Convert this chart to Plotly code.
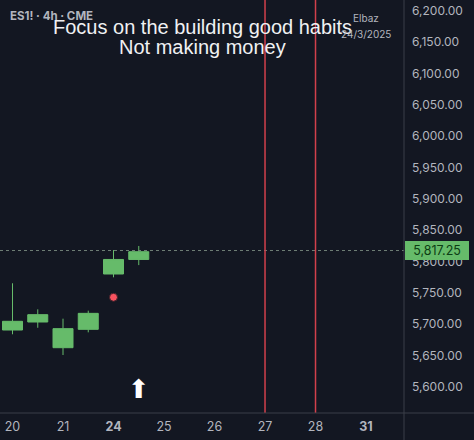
import plotly.graph_objects as go

# day slots on the time axis, weekends already left out
tick_pos = [0, 1, 2, 3, 4, 5, 6, 7]
tick_labels = ["20", "21", "<b>24</b>", "25", "26", "27", "28", "<b>31</b>"]

candle_x = [0, 0.5, 1, 1.5, 2, 2.5]
opens = [5690.4, 5703.2, 5662.2, 5691.5, 5779.8, 5803.0]
highs = [5765.0, 5723.4, 5708.5, 5721.3, 5818.0, 5824.5]
lows = [5683.6, 5694.0, 5650.5, 5686.7, 5774.5, 5794.0]
closes = [5704.3, 5714.9, 5692.6, 5717.0, 5803.0, 5815.4]

price_ticks = [5600, 5650, 5700, 5750, 5800, 5850, 5900, 5950, 6000, 6050, 6100, 6150, 6200]
last_price = 5817.25
dot_x = [2]
dot_y = [5742.6]
arrow_x = [2.5]
arrow_y = [5593]
vlines = [5, 6]

BG = "#131722"
GRID = "#3a3e49"
TXT = "#b2b5be"
GREEN = "#66bb6a"

fig = go.Figure()
fig.add_trace(go.Candlestick(
    x=candle_x, open=opens, high=highs, low=lows, close=closes,
    whiskerwidth=0,
    increasing=dict(line=dict(color=GREEN, width=1), fillcolor=GREEN),
    decreasing=dict(line=dict(color="#ef5350", width=1), fillcolor="#ef5350"),
))
fig.add_trace(go.Scatter(x=dot_x, y=dot_y, mode="markers",
                         marker=dict(color="#f7525f", size=8, line=dict(color="#3a2028", width=1))))
fig.add_trace(go.Scatter(x=arrow_x, y=arrow_y, mode="text", text=["⬆"], textposition="middle center",
                         textfont=dict(color="white", size=26, family="DejaVu Sans")))

# last price line and the event lines
fig.add_hline(y=last_price, line=dict(color="#6f7f76", width=1, dash="dot"))
for v in vlines:
    fig.add_vline(x=v, line=dict(color="#d2404c", width=1.5))

# axis lines run on past the plot area
fig.add_shape(type="line", xref="paper", yref="paper", x0=1, x1=1, y0=-0.07, y1=1,
              line=dict(color=GRID, width=1))
fig.add_shape(type="line", xref="paper", yref="paper", x0=0, x1=1.173, y0=0, y1=0,
              line=dict(color=GRID, width=1))

fig.add_annotation(xref="paper", yref="y", x=1.002, y=last_price, xanchor="left", yanchor="middle",
                   text=f"{last_price:,.2f}", showarrow=False, width=60, height=15,
                   bgcolor=GREEN, bordercolor=GREEN, borderpad=1,
                   font=dict(color="#0c3d14", size=12.5, family="Inter"))

fig.add_annotation(xref="paper", yref="paper", x=8 / 404, y=1 - 16 / 413, xanchor="left", yanchor="middle",
                   text="<b>ES1! · 4h · CME</b>", showarrow=False,
                   font=dict(color=TXT, size=11.5, family="Inter"))
fig.add_annotation(xref="paper", yref="paper", x=202 / 404, y=1 - 27 / 413, xanchor="center", yanchor="middle",
                   text="Focus on the building good habits", showarrow=False,
                   font=dict(color="#f0f1f3", size=20, family="Liberation Sans"))
fig.add_annotation(xref="paper", yref="paper", x=202 / 404, y=1 - 47 / 413, xanchor="center", yanchor="middle",
                   text="Not making money", showarrow=False,
                   font=dict(color="#f0f1f3", size=20, family="Liberation Sans"))
fig.add_annotation(xref="paper", yref="paper", x=366 / 404, y=1 - 18 / 413, xanchor="center", yanchor="middle",
                   text="Elbaz", showarrow=False, font=dict(color=TXT, size=10, family="Inter"))
fig.add_annotation(xref="paper", yref="paper", x=366 / 404, y=1 - 34 / 413, xanchor="center", yanchor="middle",
                   text="24/3/2025", showarrow=False, font=dict(color=TXT, size=10, family="Inter"))

fig.update_layout(
    width=474, height=440,
    margin=dict(l=0, r=70, t=0, b=27),
    paper_bgcolor=BG, plot_bgcolor=BG,
    showlegend=False,
    boxgap=0.1, boxgroupgap=0.12,
    xaxis=dict(range=[-0.2475, 7.752], tickvals=tick_pos, ticktext=tick_labels,
               rangeslider=dict(visible=False), showgrid=False, zeroline=False, ticks="",
               ticklabelstandoff=4,
               tickfont=dict(color=TXT, size=12.5, family="Inter")),
    yaxis=dict(range=[5558, 6217], side="right", tickvals=price_ticks, tickformat=",.2f",
               showgrid=False, zeroline=False, ticks="",
               ticklabelstandoff=7,
               tickfont=dict(color=TXT, size=12, family="Inter")),
)

# the page's default body margin would push the figure off the window
fig.write_html("out.html", config=dict(displayModeBar=False),
               post_script="document.body.style.margin='0';document.body.style.background='#131722';")
